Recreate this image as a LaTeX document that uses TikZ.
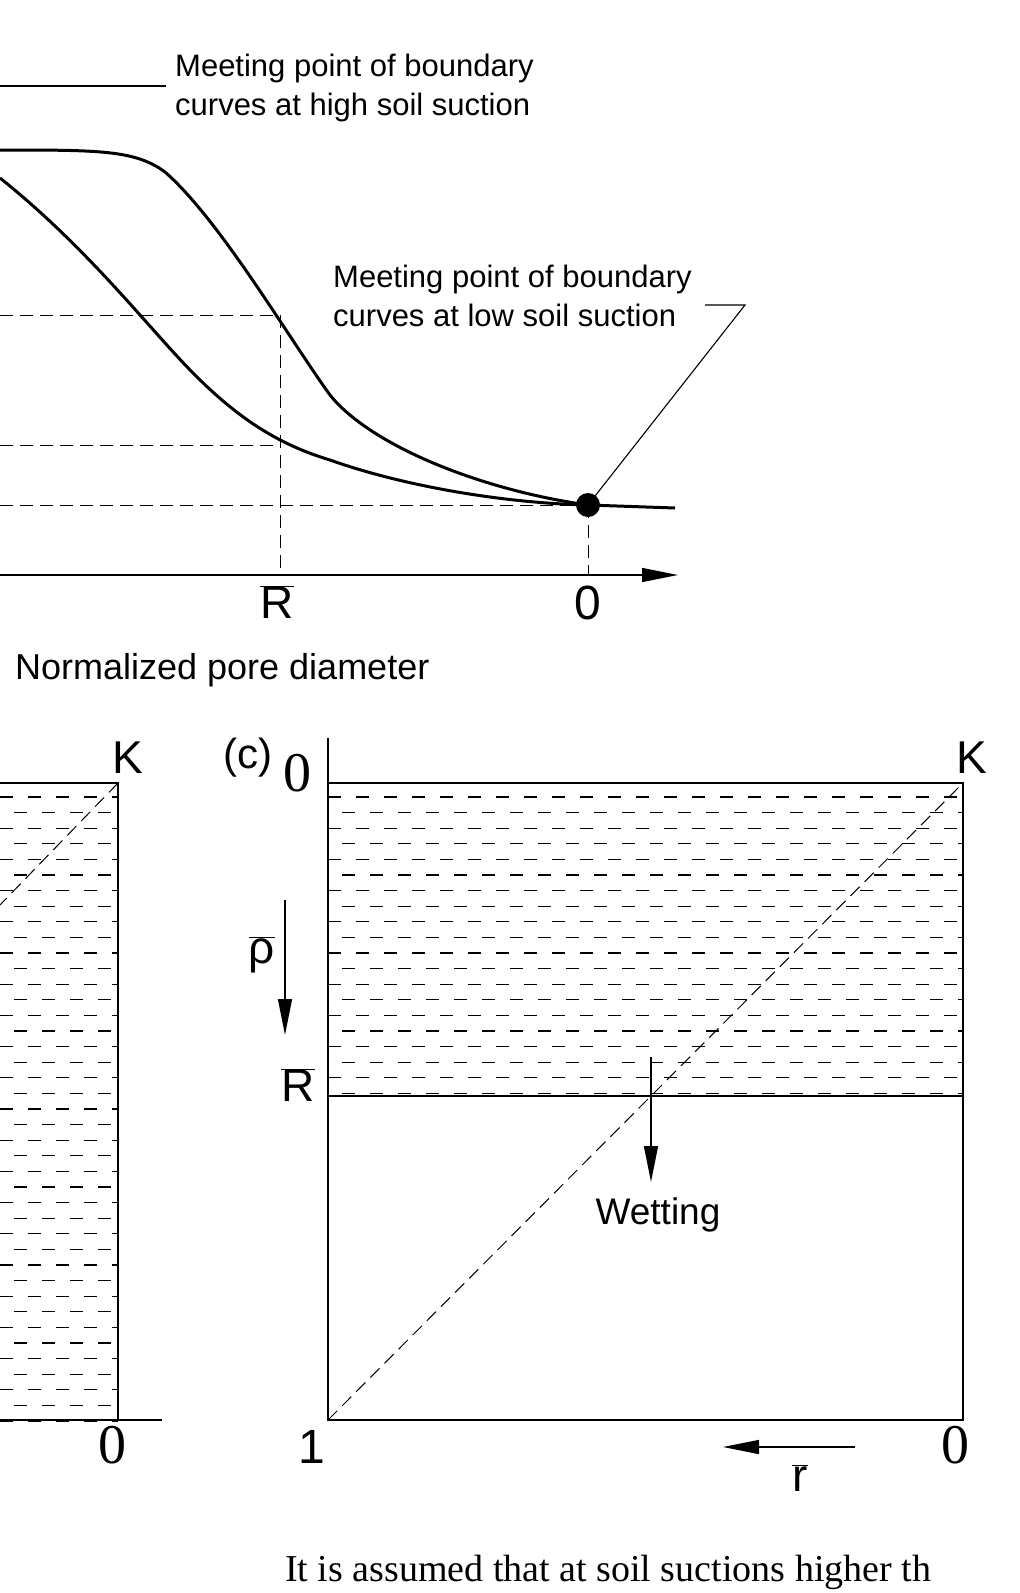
\documentclass[tikz,border=0pt]{standalone}
\usepackage{fontspec}
\setmainfont{Liberation Sans}
\newfontfamily\serif{Liberation Serif}
\usetikzlibrary{arrows.meta}
\begin{document}
\begin{tikzpicture}[x=1pt,y=-1pt,
  lbl/.style={font=\fontsize{31}{39}\selectfont,align=left,inner sep=0pt},
  big/.style={font=\fontsize{46}{48}\selectfont,inner sep=0pt},
  bigs/.style={font=\serif\fontsize{56}{58}\selectfont,inner sep=0pt},
  curve/.style={line width=3pt},
  thin/.style={line width=1.1pt},
  dsh/.style={line width=1pt,dash pattern=on 13pt off 7pt},
  hatch/.style={line width=1.1pt,dash pattern=on 13pt off 15pt},
  arr/.style={line width=1.3pt,-{Triangle[length=36pt,width=14pt]}}]
\useasboundingbox (0,0) rectangle (1020,1593);
% ---------- top panel ----------
\node[lbl,anchor=west] (t1) at (175,88) {Meeting point of boundary\\curves at high soil suction};
\coordinate (l1) at (0,86);
\coordinate (l1e) at (166,86);
\draw[thin] (l1) -- (l1e);
\draw[curve] (0,150) .. controls (100,150) and (135,150) .. (165,172)
  .. controls (220,220) and (290,340) .. (330,395)
  .. controls (370,445) and (480,490) .. (588,505);
\draw[curve] (0,178) .. controls (90,250) and (150,330) .. (195,375)
  .. controls (240,420) and (280,445) .. (330,460)
  .. controls (400,485) and (500,503) .. (588,505) -- (675,508);
\draw[dsh] (0,315) -- (280,315);
\draw[dsh] (0,445) -- (280,445);
\draw[dsh] (0,505) -- (588,505);
\draw[dsh] (280,315) -- (280,575);
\draw[dsh] (588,505) -- (588,575);
\node[circle,fill,inner sep=0pt,minimum size=24pt] (dot) at (588,505) {};
\node[lbl,anchor=west] (t2) at (333,296) {Meeting point of boundary\\curves at low soil suction};
\coordinate (k2) at (745,305);
\coordinate (k1) at (705,305);
\draw[thin] (k1) -- (k2) -- (dot.center);
\coordinate (ax0) at (0,575);
\coordinate (ax1) at (678,575);
\draw[arr] (ax0) -- (ax1);
\node[big] (Rb) at (277,602) {$\overline{\textrm{R}}$};
\node[font=\fontsize{48}{48}\selectfont,inner sep=0pt] (z1) at (588,603) {0};
\node[lbl,font=\fontsize{36}{38}\selectfont,anchor=west] (np) at (15,670) {Normalized pore diameter};
% ---------- panel b (partial) ----------
\foreach \i in {0,...,40}{
  \pgfmathsetmacro\yy{797+15.6*\i}
  \ifodd\i \draw[hatch,dash phase=14pt] (0,\yy) -- (118,\yy);
  \else \draw[hatch] (0,\yy) -- (118,\yy); \fi}
\fill[white] (0,1412) rectangle (117,1419);
\draw[thin] (0,783) -- (118,783) -- (118,1420);
\draw[thin] (0,1420) -- (162,1420);
\draw[dsh] (118,783) -- (0,905);
\node[big] (Kb) at (128,758) {K};
\node[bigs] (zb) at (112,1445) {0};
% ---------- panel c ----------
\foreach \i in {0,...,19}{
  \pgfmathsetmacro\yy{797+15.6*\i}
  \ifodd\i \draw[hatch,dash phase=14pt] (328,\yy) -- (963,\yy);
  \else \draw[hatch] (328,\yy) -- (963,\yy); \fi}
\draw[thin] (328,738) -- (328,1420) -- (963,1420) -- (963,783) -- (328,783);
\draw[thin] (328,1096) -- (963,1096);
\draw[dsh] (328,1420) -- (963,783);
\node[big] (Kc) at (972,758) {K};
\node[font=\fontsize{42}{42}\selectfont,inner sep=0pt] (c) at (248,758) {(c)};
\node[bigs] (zc) at (297,773) {0};
\node[big] (rho) at (262,955) {$\overline{\textrm{\char"03C1}}$};
\draw[arr] (285,900) -- (285,1035);
\node[big] (Rc) at (298,1085) {$\overline{\textrm{R}}$};
\draw[arr] (651,1057) -- (651,1182);
\node[lbl,font=\fontsize{37}{38}\selectfont] (wet) at (658,1215) {Wetting};
\node[font=\fontsize{48}{48}\selectfont,inner sep=0pt] (one) at (312,1447) {1};
\node[bigs] (zr) at (955,1445) {0};
\draw[arr] (855,1447) -- (723,1447);
\node[big] (rb) at (800,1478) {$\overline{\textrm{r}}$};
% bottom text
\node[font=\serif\fontsize{38}{38}\selectfont,anchor=west,inner sep=0pt] (txt) at (285,1572) {It is assumed that at soil suctions higher th};
\end{tikzpicture}
\end{document}
